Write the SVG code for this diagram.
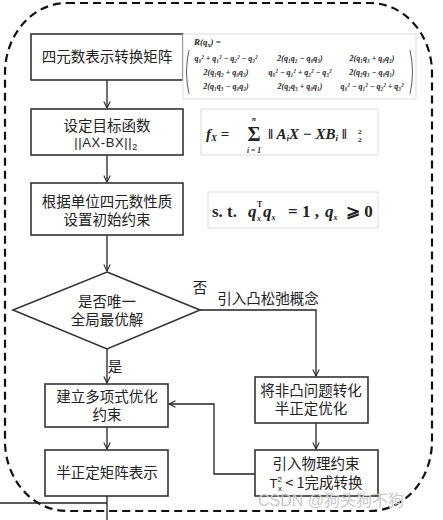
<svg xmlns="http://www.w3.org/2000/svg" width="443" height="520" viewBox="0 0 443 520">
<defs>
<marker id="ah" viewBox="0 0 10 10" refX="9" refY="5" markerWidth="8" markerHeight="8" orient="auto" markerUnits="userSpaceOnUse">
<path d="M1,1 L9,5 L1,9" fill="none" stroke="#222" stroke-width="1.3"/>
</marker>
<style>
.box{fill:#fff;stroke:#333;stroke-width:1.6}
.fbox{fill:#fff;stroke:#ddd;stroke-width:1}
.t{font-family:"Noto Sans CJK SC","Noto Sans",sans-serif;font-size:14.5px;fill:#222;text-anchor:middle}
.lat{font-family:"Liberation Sans",sans-serif;font-size:13px;fill:#222;text-anchor:middle}
.m{font-family:"Liberation Serif",serif;font-weight:bold;fill:#222}
.mi{font-family:"Liberation Serif",serif;font-weight:bold;font-style:italic;fill:#222}
.ln{fill:none;stroke:#222;stroke-width:1.3}
.wm{font-family:"Liberation Sans","Noto Sans CJK SC",sans-serif;font-size:16px;fill:#c8c8c8}
</style>
</defs>
<rect width="443" height="520" fill="#fff"/>
<rect x="5" y="3" width="427" height="508" rx="62" ry="70" fill="none" stroke="#111" stroke-width="2.2" stroke-dasharray="8 5"/>

<g id="connectors">
<line class="ln" x1="107" y1="80" x2="107" y2="108" marker-end="url(#ah)"/>
<line class="ln" x1="107" y1="155" x2="107" y2="182" marker-end="url(#ah)"/>
<line class="ln" x1="107" y1="235" x2="107" y2="271" marker-end="url(#ah)"/>
<line class="ln" x1="107" y1="349" x2="107" y2="383" marker-end="url(#ah)"/>
<polyline class="ln" points="200,310 316,310 316,376" marker-end="url(#ah)"/>
<line class="ln" x1="316" y1="423" x2="316" y2="449" marker-end="url(#ah)"/>
<line class="ln" x1="107" y1="427" x2="107" y2="449" marker-end="url(#ah)"/>
<polyline class="ln" points="255,474 214,474 214,404 169,404" marker-end="url(#ah)"/>
<line class="ln" x1="107" y1="496" x2="107" y2="520"/>
<line class="ln" x1="0" y1="503" x2="107" y2="503"/>
</g>

<g id="n1"><rect class="box" x="31" y="34" width="152" height="46"/><text class="t" x="107" y="62">四元数表示转换矩阵</text></g>
<g id="n2"><rect class="box" x="31" y="109" width="152" height="46"/><text class="t" x="107" y="131">设定目标函数</text><text class="lat" x="106" y="147" letter-spacing="0.6">||AX-BX||<tspan font-size="9" dy="3">2</tspan></text></g>
<g id="n3"><rect class="box" x="31" y="183" width="152" height="52"/><text class="t" x="107" y="207">根据单位四元数性质</text><text class="t" x="107" y="225">设置初始约束</text></g>
<g id="n4"><polygon class="box" points="107,272 200,310 107,349 13,310"/><text class="t" x="107" y="307">是否唯一</text><text class="t" x="107" y="325">全局最优解</text></g>
<g id="n5"><rect class="box" x="45" y="384" width="123" height="43"/><text class="t" x="107" y="402">建立多项式优化</text><text class="t" x="107" y="420">约束</text></g>
<g id="n6"><rect class="box" x="45" y="450" width="123" height="46"/><text class="t" x="107" y="478">半正定矩阵表示</text></g>
<g id="n7"><rect class="box" x="255" y="377" width="113" height="46"/><text class="t" x="311" y="396">将非凸问题转化</text><text class="t" x="311" y="414">半正定优化</text></g>
<g id="n8"><rect class="box" x="255" y="450" width="123" height="46"/><text class="t" x="316" y="469">引入物理约束</text><text class="t" x="316" y="488"><tspan font-family="Liberation Sans" font-size="13">T</tspan><tspan font-family="Liberation Sans" font-size="8" dy="-6">2</tspan><tspan font-family="Liberation Sans" font-size="8" dx="-4" dy="9">x</tspan><tspan dy="-3"> &lt; 1完成转换</tspan></text></g>

<g id="labels">
<text class="t" x="200" y="293">否</text>
<text class="t" x="268" y="304">引入凸松弛概念</text>
<text class="t" x="115" y="372">是</text>
</g>

<g id="f1">
<rect class="fbox" x="183" y="34" width="233" height="65"/>
<text class="mi" x="194" y="45" font-size="9">R(q<tspan font-size="6" dy="2">x</tspan><tspan dy="-2">)  =</tspan></text>
<path d="M189,50 Q184,72 189,94" fill="none" stroke="#333" stroke-width="0.8"/>
<path d="M410,50 Q415,72 410,94" fill="none" stroke="#333" stroke-width="0.8"/>
<g class="mi" font-size="8" text-anchor="middle">
<text x="226" y="61">q₀² + q₁² − q₂² − q₃²</text>
<text x="300" y="61">2(q₁q₂ − q₀q₃)</text>
<text x="372" y="61">2(q₁q₃ + q₀q₂)</text>
<text x="226" y="75">2(q₁q₂ + q₀q₃)</text>
<text x="300" y="75">q₀² − q₁² + q₂² − q₃²</text>
<text x="372" y="75">2(q₂q₃ − q₀q₁)</text>
<text x="226" y="89">2(q₁q₃ − q₀q₂)</text>
<text x="300" y="89">2(q₂q₃ + q₀q₁)</text>
<text x="372" y="89">q₀² − q₁² − q₂² + q₃²</text>
</g>
</g>
<g id="f2">
<rect class="fbox" x="201" y="109" width="177" height="46"/>
<text class="mi" x="206" y="139" font-size="15">f<tspan font-size="9" dy="2">X</tspan><tspan dy="-2" font-style="normal">  =</tspan></text>
<text class="m" x="254" y="141" font-size="20" text-anchor="middle">Σ</text>
<text class="mi" x="254" y="121" font-size="7" text-anchor="middle">n</text>
<text class="mi" x="254" y="153" font-size="7.5" text-anchor="middle">i = 1</text>
<text class="mi" x="268" y="139" font-size="15">‖ A<tspan font-size="9" dy="2">i</tspan><tspan dy="-2">X − XB</tspan><tspan font-size="9" dy="2">i</tspan><tspan dy="-2"> ‖</tspan></text>
<text class="m" x="358" y="134" font-size="7">2</text>
<text class="m" x="358" y="142" font-size="7">2</text>
</g>
<g id="f3">
<rect class="fbox" x="208" y="192" width="170" height="36"/>
<text class="m" x="212" y="217" font-size="17">s. t.</text>
<text class="mi" x="248" y="217" font-size="17">q</text>
<text class="m" x="257" y="207" font-size="8">T</text>
<text class="mi" x="257" y="221" font-size="8">x</text>
<text class="mi" x="263" y="217" font-size="17">q<tspan font-size="8" dy="3">x</tspan></text>
<text class="m" x="288" y="217" font-size="17">= 1 ,</text>
<text class="mi" x="325" y="217" font-size="17">q<tspan font-size="8" dy="3">x</tspan></text>
<text class="m" x="346" y="217" font-size="17">⩾ 0</text>
</g>
<text class="wm" x="258" y="506">CSDN @狗头狗不狗</text>
</svg>
